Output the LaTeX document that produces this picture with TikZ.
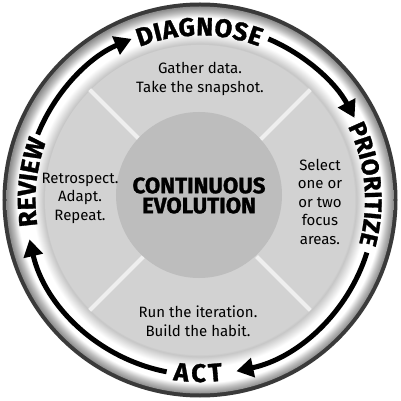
\documentclass[tikz,border=0pt]{standalone}
\usepackage{fontspec}
\setmainfont{Fira Sans}
\newfontfamily\heavyfam{Fira Sans}[BoldFeatures={FakeBold=1.2}]
\usetikzlibrary{arrows.meta,decorations.text}
\definecolor{outerc}{HTML}{3A3A3A}
\definecolor{sectorc}{HTML}{D2D2D2}
\definecolor{centerc}{HTML}{BDBDBD}
\definecolor{linec}{HTML}{EFEFEF}
\pgfdeclareradialshading{ringshade}{\pgfpoint{0bp}{0bp}}{%
  color(0bp)=(sectorc); color(19.9bp)=(sectorc); color(20.2bp)=(black!22);
  color(21.6bp)=(white); color(23.6bp)=(white); color(24.3bp)=(black!25);
  color(25bp)=(black!45); color(50bp)=(black!45)}
\newcommand\lblfont{\heavyfam\bfseries\fontsize{25.5}{25.5}\selectfont}
\newcommand\lblfontn{\heavyfam\bfseries\fontsize{24}{24}\selectfont}
\tikzset{
  x=1pt, y=1pt,
  cyclearrow/.style={line width=5pt, black, -{Triangle[length=17pt,width=19pt]}},
  divider/.style={line width=4pt, linec},
  phase/.style={font=\fontsize{15}{18.5}\selectfont, align=center, text=black, inner sep=0pt},
  hub/.style={font=\heavyfam\bfseries\fontsize{22.3}{20}\selectfont, align=center, text=black, inner sep=0pt},
  ringlabel/.style={decorate, decoration={text along path, text align=fit to path, text={#1}}},
  ringlabelc/.style={decorate, decoration={text along path, text align=center, text={#1}}}
}
\begin{document}
\begin{tikzpicture}
\useasboundingbox[fill=white] (-200,-201) rectangle (200,200);
% rings
\fill[outerc] (0,0) circle (197.5);
\shade[shading=ringshade] (0,0) circle (193.5);
\fill[sectorc] (0,0) circle (155);
% dividers
\foreach \a in {45,135,225,315}
  \draw[divider] (\a:80) -- (\a:156);
\fill[centerc] (-1,5) circle (83);
% arrows
\coordinate (r1) at (158:175);
\coordinate (r2) at (67:175);
\coordinate (r3) at (-17.5:175);
\coordinate (r4) at (-101:175);
\draw[cyclearrow] (r1) arc[start angle=158, end angle=113, radius=175];
\draw[cyclearrow] (r2) arc[start angle=67, end angle=28, radius=175];
\draw[cyclearrow] (r3) arc[start angle=-17.5, end angle=-78, radius=175];
\draw[cyclearrow] (r4) arc[start angle=-101, end angle=-167, radius=175];
% ring labels
\path[ringlabel={|\lblfont|DIAGNOSE}] (111.5:164.5) arc[start angle=111.5, end angle=69, radius=164.5];
\path[ringlabelc={|\lblfontn|PRIORITIZE}] (45:165) arc[start angle=45, end angle=-34, radius=165];
\path[ringlabel={|\lblfont|REVIEW}] (189:164.5) arc[start angle=189, end angle=161, radius=164.5];
\path[ringlabel={|\lblfont|ACT}] (-98.5:182) arc[start angle=-98.5, end angle=-82.8, radius=182];
% texts
\node[hub] (hub) at (-1,4.5) {CONTINUOUS\\EVOLUTION};
\node[phase] (diag) at (0,121) {Gather data.\\Take the snapshot.};
\node[phase] (prio) at (120,-1.5) {Select\\one or\\or two\\focus\\areas.};
\node[phase] (act) at (-2,-121) {Run the iteration.\\Build the habit.};
\node[phase] (rev) at (-120,2) {Retrospect.\\Adapt.\\Repeat.};
\end{tikzpicture}
\end{document}
